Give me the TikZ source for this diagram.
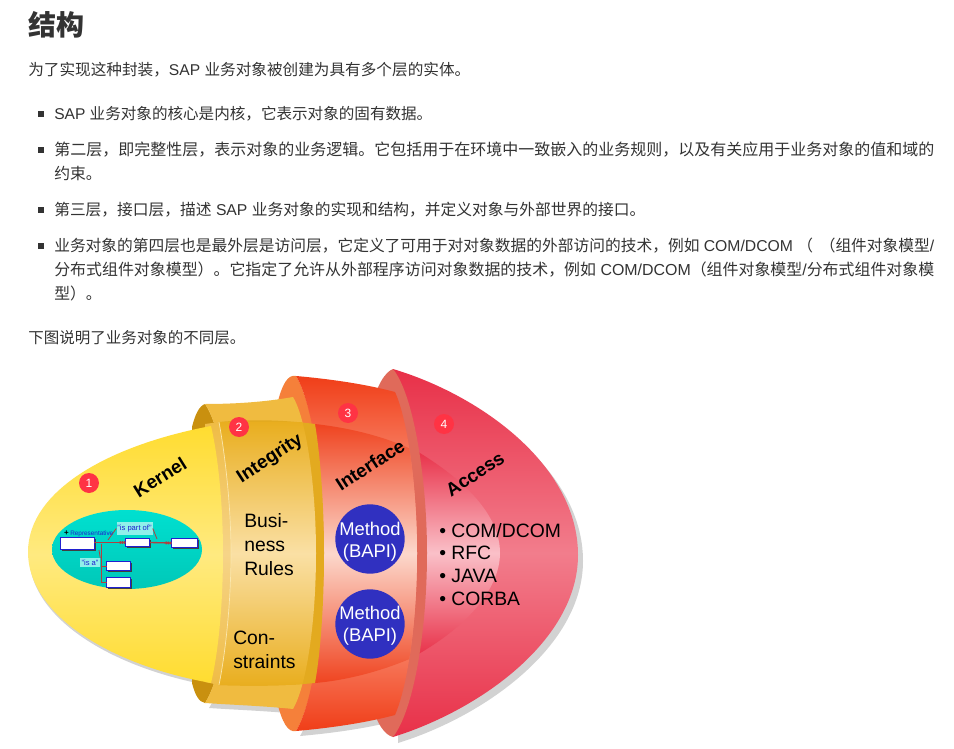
\documentclass[tikz,border=0pt]{standalone}
\usepackage{graphicx}
\usepackage{fontspec}
\setmainfont{Liberation Sans}
\newfontfamily\cjk{Noto Sans CJK SC}
\usetikzlibrary{arrows.meta}
\definecolor{ink}{HTML}{333333}
\definecolor{shadowc}{HTML}{D2D2D2}
\definecolor{badge}{HTML}{FF3344}
\definecolor{methodc}{HTML}{3030C0}
\definecolor{linkc}{HTML}{B04040}
\definecolor{boxb}{HTML}{2020D0}
\definecolor{rimc}{HTML}{E06A5A}
\definecolor{orangec}{HTML}{F5803A}
\definecolor{golddark}{HTML}{C9900F}
\definecolor{goldband}{HTML}{F0BB40}
\definecolor{goldstrip}{HTML}{E3AA1F}
\definecolor{accA}{HTML}{E83048}
\definecolor{accB}{HTML}{F27D8C}
\definecolor{accC}{HTML}{FAC0C8}
\definecolor{ifaA}{HTML}{F03E18}
\definecolor{ifaB}{HTML}{FFC8B8}
\definecolor{ifaC}{HTML}{EF4420}
\definecolor{ifaD}{HTML}{FCD8CC}
\definecolor{intA}{HTML}{E9AE1F}
\definecolor{intB}{HTML}{FAE0A5}
\definecolor{stripA}{HTML}{EFBC45}
\definecolor{stripB}{HTML}{F6D488}
\definecolor{stripL}{HTML}{FBE8B0}
\definecolor{kerA}{HTML}{FFDC30}
\definecolor{kerB}{HTML}{FFEA80}
\definecolor{tealA}{HTML}{00E0D0}
\definecolor{tealB}{HTML}{00C8B8}
\definecolor{tagc}{HTML}{90F0EA}
\newcommand\accesspath{(393,369) .. controls (480,395) and (578,465) .. (578,555) .. controls (578,640) and (480,710) .. (393,737) -- cycle}
\newcommand\rimpath{(393,369) .. controls (414,395) and (427,480) .. (427,553) .. controls (427,630) and (414,710) .. (393,737) .. controls (385,735) and (377,725) .. (370,700) -- (370,410) .. controls (377,385) and (385,372) .. (393,369) -- cycle}
\newcommand\bandpath{(296,376) .. controls (330,379) and (365,384) .. (395,392) .. controls (408,420) and (417,490) .. (417,553) .. controls (417,620) and (408,685) .. (395,715) .. controls (365,723) and (330,728) .. (296,731) .. controls (312,705) and (324,630) .. (324,553) .. controls (324,480) and (312,402) .. (296,376) -- cycle}
\newcommand\orangepath{(296,376) .. controls (288,374) and (282,384) .. (277,405) -- (277,702) .. controls (282,722) and (288,733) .. (296,731) .. controls (312,705) and (326,630) .. (326,553) .. controls (326,480) and (312,402) .. (296,376) -- cycle}
\newcommand\intpath{(205,404) .. controls (235,404) and (265,402) .. (293,397) .. controls (307,420) and (316,490) .. (316,553) .. controls (316,620) and (307,685) .. (293,709) .. controls (265,706) and (235,705) .. (205,703) .. controls (220,680) and (230,620) .. (230,553) .. controls (230,490) and (220,425) .. (205,404) -- cycle}
\newcommand\intdark{(205,404) .. controls (199,406) and (195,415) .. (192,427) -- (192,683) .. controls (195,695) and (199,702) .. (205,703) .. controls (220,680) and (232,620) .. (232,553) .. controls (232,490) and (220,425) .. (205,404) -- cycle}
\newcommand\kernelpath{(28,552) .. controls (28,490) and (110,445) .. (211,426) .. controls (219,460) and (223,510) .. (223,553) .. controls (223,600) and (219,650) .. (211,683) .. controls (110,665) and (28,615) .. (28,552) -- cycle}
\newcommand\cjktext[1]{{\cjk #1}}
\newcommand\fitpx[2]{\resizebox{\dimexpr #1pt*3/4\relax}{!}{#2}}
\tikzset{
  x=0.75pt,y=-0.75pt,
  bodytext/.style={anchor=base west,inner sep=0pt,text=ink,font=\fontsize{11.85}{14}\selectfont},
  bulletmark/.style={fill=ink,draw=none,minimum size=3.9pt,inner sep=0pt},
  numbadge/.style={circle,fill=badge,draw=none,minimum size=15pt,inner sep=0pt,text=white,font=\fontsize{9}{10}\selectfont},
  layername/.style={inner sep=0pt,text=black,font=\bfseries\fontsize{14}{17}\selectfont},
  leftlabel/.style={anchor=base west,inner sep=0pt,text=black,font=\fontsize{14.5}{17}\selectfont},
  methodcircle/.style={circle,fill=methodc,draw=none,minimum size=52pt,inner sep=0pt},
  methodtext/.style={inner sep=0pt,text=white,align=center,font=\fontsize{13.8}{16.6}\selectfont},
  umlbox/.style={fill=white,draw=boxb,line width=0.7pt,inner sep=0pt,outer sep=0pt},
  link/.style={draw=linkc,line width=1pt},
  tagbox/.style={fill=tagc,inner sep=0.6pt,text=boxb,font=\fontsize{5.7}{6}\selectfont},
  triple/.style={-{>[length=1.6pt,width=2.4pt]>[length=1.6pt,width=2.4pt]>[length=1.6pt,width=2.4pt]}},
}
\begin{document}
\begin{tikzpicture}
\useasboundingbox (0,0) rectangle (954,749);
\fill[white] (0,0) rectangle (954,749);
% ---- page text
\node[anchor=base west,inner sep=0pt,text=ink,font=\bfseries\fontsize{21}{24}\selectfont\cjk] (title) at (28,36) {结构};
\node[bodytext] (p1) at (28,75.5) {\fitpx{442}{\cjktext{为了实现这种封装，}SAP \cjktext{业务对象被创建为具有多个层的实体。}}};
\node[bulletmark] (b1) at (41,114) {};
\node[bodytext] (l1) at (54,119.5) {\fitpx{378}{SAP \cjktext{业务对象的核心是内核，它表示对象的固有数据。}}};
\node[bulletmark] (b2) at (41,150) {};
\node[bodytext] (l2) at (54,155.5) {\fitpx{880}{\cjktext{第二层，即完整性层，表示对象的业务逻辑。它包括用于在环境中一致嵌入的业务规则，以及有关应用于业务对象的值和域的}}};
\node[bodytext] (l2b) at (54,179.5) {\cjktext{约束。}};
\node[bulletmark] (b3) at (41,210) {};
\node[bodytext] (l3) at (54,215.5) {\fitpx{591}{\cjktext{第三层，接口层，描述} SAP \cjktext{业务对象的实现和结构，并定义对象与外部世界的接口。}}};
\node[bulletmark] (b4) at (41,246) {};
\node[bodytext] (l4) at (54,251.5) {\fitpx{880}{\cjktext{业务对象的第四层也是最外层是访问层，它定义了可用于对对象数据的外部访问的技术，例如} COM/DCOM \cjktext{（\hspace{5pt}（组件对象模型}/}};
\node[bodytext] (l4b) at (54,275.5) {\fitpx{880}{\cjktext{分布式组件对象模型）。它指定了允许从外部程序访问对象数据的技术，例如} COM/DCOM\cjktext{（组件对象模型}/\cjktext{分布式组件对象模}}};
\node[bodytext] (l4c) at (54,299.5) {\cjktext{型）。}};
\node[bodytext] (p2) at (28,343.5) {\fitpx{217}{\cjktext{下图说明了业务对象的不同层。}}};
% ---- shadows
\fill[shadowc,shift={(5,6)}] \accesspath;
\fill[shadowc,shift={(4,5)}] \bandpath;
\fill[shadowc,shift={(4,5)}] \intpath;
\fill[shadowc,shift={(1,3)}] \kernelpath;
% ---- access
\shade[top color=accA,bottom color=accA,middle color=accB] \accesspath;
\shade[top color=accA,bottom color=accA,middle color=accC]
  (415,450) .. controls (465,480) and (500,515) .. (500,553) .. controls (500,590) and (465,628) .. (415,656) -- cycle;
\fill[rimc] \rimpath;
% ---- interface
\fill[orangec] \orangepath;
\shade[top color=ifaA,bottom color=ifaA,middle color=ifaB] \bandpath;
\begin{scope}
\clip \bandpath;
\shade[top color=ifaC,bottom color=ifaC,middle color=ifaD]
  (300,424) -- (315,424) .. controls (350,428) and (390,437) .. (425,456) -- (425,652) .. controls (390,669) and (350,680) .. (315,683) -- (300,683) -- cycle;
\end{scope}
% ---- integrity
\fill[golddark] \intdark;
\fill[goldband] \intpath;
\begin{scope}
\clip (219,422) .. controls (250,419) and (285,420) .. (315,424) .. controls (321,460) and (324,510) .. (324,553) .. controls (324,600) and (321,650) .. (315,683) .. controls (285,686) and (250,686) .. (219,685) -- cycle;
\fill[goldstrip] (205,415) rectangle (330,690);
\clip \intpath;
\shade[top color=intA,bottom color=intA,middle color=intB] (205,422) rectangle (330,685);
\end{scope}
\shade[top color=stripA,bottom color=stripA,middle color=stripB]
  (205,424) -- (219,422) .. controls (226,460) and (231,510) .. (231,553) .. controls (231,600) and (226,650) .. (219,685) -- (205,682) -- cycle;
\draw[stripL,line width=0.5pt] (219,422) .. controls (226,460) and (231,510) .. (231,553) .. controls (231,600) and (226,650) .. (219,685);
% ---- kernel
\shade[top color=kerA,bottom color=kerA,middle color=kerB] \kernelpath;
\shade[top color=tealA,bottom color=tealB] (127,549.5) ellipse [x radius=75,y radius=39.5];
% ---- small model inside the kernel
\fill[black!75] (62,538.5) rectangle (95.5,551);
\fill[black!75] (127,539.5) rectangle (151,548);
\fill[black!75] (173,539.5) rectangle (198.5,549);
\fill[black!75] (108,563) rectangle (132,572);
\fill[black!75] (108,579) rectangle (132,588.5);
\node[umlbox,minimum width=25pt,minimum height=9pt] (boxA) at (77.5,543.5) {};
\node[umlbox,minimum width=18pt,minimum height=6.2pt] (boxB) at (137.8,542.5) {};
\node[umlbox,minimum width=19pt,minimum height=7pt] (boxC) at (184.5,543) {};
\node[umlbox,minimum width=18pt,minimum height=6.6pt] (boxD) at (118.7,566.3) {};
\node[umlbox,minimum width=18pt,minimum height=7pt] (boxE) at (118.7,582.3) {};
\coordinate (junction) at (101.7,543.5);
\draw[link,triple] (boxA.east |- boxB.west) -- (boxB.west);
\draw[link,triple] (boxB.east) -- (boxC.west);
\draw[link] (junction) -- (junction |- boxD.west) -- (boxD.west);
\draw[link] (junction |- boxD.west) -- (junction |- boxE.west) -- (boxE.west);
\node[tagbox,minimum width=27pt,minimum height=9.5pt] (tagPart) at (134.5,528.5) {"is part of"};
\node[tagbox,minimum width=15pt,minimum height=6.5pt] (tagIs) at (90,562.5) {"is a"};
\coordinate (partA) at (108,540);
\coordinate (partB) at (157,539);
\coordinate (isA) at (99,550);
\draw[link,line width=0.6pt] (tagPart.west) -- (partA);
\draw[link,line width=0.6pt] (tagPart.east) -- (partB);
\draw[link,line width=0.6pt] (tagIs.north east) -- (isA);
\node[anchor=base west,inner sep=0pt,text=boxb,font=\fontsize{4.8}{6}\selectfont] (repr) at (70,535) {Representative};
\node[anchor=base east,inner sep=0pt,text=black,font=\bfseries\fontsize{6}{6}\selectfont] (plus) at (69,535.5) {+};
% ---- badges
\node[numbadge] (n1) at (89,483) {1};
\node[numbadge] (n2) at (239,427) {2};
\node[numbadge] (n3) at (348,413) {3};
\node[numbadge] (n4) at (444,424) {4};
% ---- layer names
\node[layername,rotate=32] (kernel) at (160,477) {Kernel};
\node[layername,rotate=33] (integrity) at (270,459) {Integrity};
\node[layername,rotate=33] (interface) at (370,465) {Interface};
\node[layername,rotate=33] (access) at (475,474) {Access};
% ---- integrity labels
\node[leftlabel] (busi) at (244,527) {Busi-};
\node[leftlabel] (ness) at (244,551) {ness};
\node[leftlabel] (rules) at (244,575) {Rules};
\node[leftlabel] (con) at (233,644) {Con-};
\node[leftlabel] (straints) at (233,668) {straints};
% ---- methods
\node[methodcircle] (m1) at (370,539) {};
\node[methodcircle] (m2) at (370,624) {};
\node[methodtext] (m1t) at (370,541.5) {Method\\(BAPI)};
\node[methodtext] (m2t) at (370,625.5) {Method\\(BAPI)};
% ---- access list
\node[leftlabel] (a1) at (439,537) {• COM/DCOM};
\node[leftlabel] (a2) at (439,559) {• RFC};
\node[leftlabel] (a3) at (439,582) {• JAVA};
\node[leftlabel] (a4) at (439,605) {• CORBA};
\end{tikzpicture}
\end{document}
